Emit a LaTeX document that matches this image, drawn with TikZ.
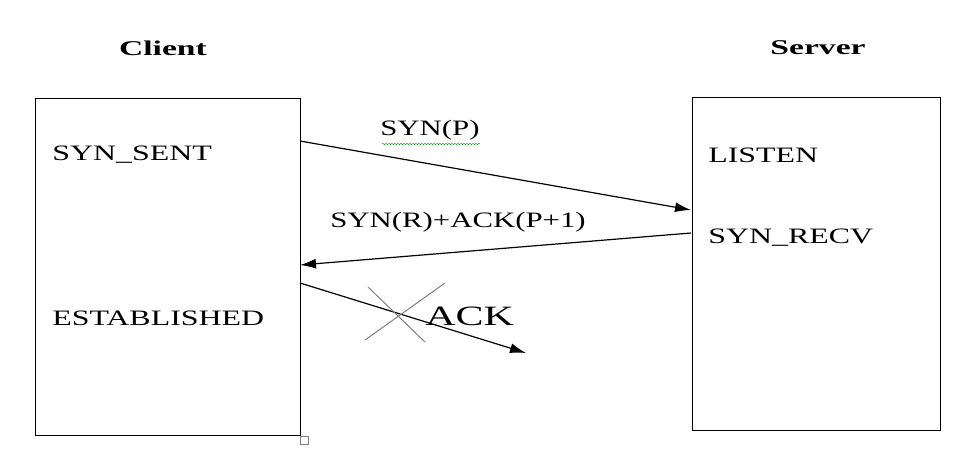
\documentclass[tikz,border=0pt]{standalone}
\usepackage{fontspec}
\setmainfont{Liberation Serif}
\usetikzlibrary{arrows.meta,decorations.pathmorphing}
\begin{document}
\begin{tikzpicture}[x=1pt,y=-1pt,
  box/.style={draw,line width=1.2pt},
  st/.style={anchor=west,inner sep=0pt,font=\fontsize{22}{22}\selectfont,xscale=1.45},
  lbl/.style={anchor=west,inner sep=0pt,font=\fontsize{22}{22}\selectfont,xscale=1.4},
  hd/.style={inner sep=0pt,font=\bfseries\fontsize{21}{21}\selectfont,xscale=1.6},
  msg/.style={line width=1.2pt,-{Latex[length=16pt,width=10pt]}},
  crs/.style={draw=gray,line width=1pt}]
\useasboundingbox (0,0) rectangle (958,458);
\node[box,minimum width=265pt,minimum height=337pt,anchor=north west] (cl) at (35,98) {};
\node[box,minimum width=248pt,minimum height=333pt,anchor=north west] (sv) at (692,97) {};
\node[hd] (hc) at (163,48) {Client};
\node[hd] (hs) at (818,48) {Server};
\node[st] (s1) at (52,155) {SYN\_SENT};
\node[st] (s2) at (52,318) {ESTABLISHED};
\node[st] (s3) at (708,155) {LISTEN};
\node[st] (s4) at (708,238) {SYN\_RECV};
\coordinate (a1) at (300,141);
\coordinate (b1) at (691,210);
\coordinate (b2) at (691,233);
\coordinate (a2) at (300,265);
\coordinate (a3) at (300,283);
\coordinate (c3) at (526,353);
\draw[msg] (a1) -- (b1);
\draw[msg] (b2) -- (a2);
\draw[msg] (a3) -- (c3);
\node[lbl] (m1) at (380,130) {SYN(P)};
\draw[green!60!black,decorate,decoration={snake,amplitude=0.8pt,segment length=3pt}] (382,144) -- (480,144);
\node[lbl] (m2) at (330,222) {SYN(R)+ACK(P+1)};
\node[anchor=west,inner sep=0pt,font=\fontsize{28}{28}\selectfont,xscale=1.5] (m3) at (425,316) {ACK};
\coordinate (x1) at (368,287); \coordinate (x2) at (425,342);
\coordinate (x3) at (445,283); \coordinate (x4) at (365,340);
\draw[crs] (x1) -- (x2);
\draw[crs] (x3) -- (x4);
\node[draw=gray,minimum size=8pt,inner sep=0pt] (sq) at (304,440) {};
\end{tikzpicture}
\end{document}
